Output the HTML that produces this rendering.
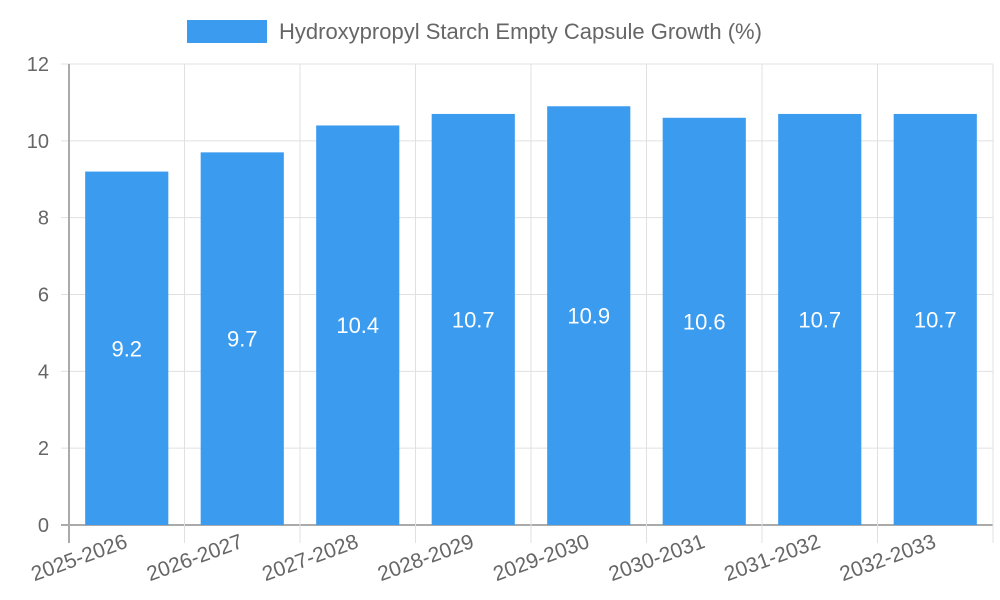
<!DOCTYPE html>
<html><head><meta charset="utf-8"><style>
body{margin:0;background:#fff;}
svg{display:block;font-family:"Liberation Sans",sans-serif;}
</style></head><body>
<svg id="chart" width="1000" height="600">
<g>
<rect x="187" y="20" width="80" height="23" fill="#3a9bef"></rect>
<text x="279" y="39" font-size="22" fill="#666">Hydroxypropyl Starch Empty Capsule Growth (%)</text>
</g>
<g id="grid"></g>
<g id="bars"></g>
<g id="axes"></g>
</svg>
<script>
const categories=["2025-2026","2026-2027","2027-2028","2028-2029","2029-2030","2030-2031","2031-2032","2032-2033"];
const values=[9.2,9.7,10.4,10.7,10.9,10.6,10.7,10.7];
const yTicks=[0,2,4,6,8,10,12];
const NS="http://www.w3.org/2000/svg";
const x0=69,x1=993,yTop=64,yBot=525,yMax=12;
const band=(x1-x0)/categories.length;
const y=v=>yBot-(v/yMax)*(yBot-yTop);
const xc=i=>x0+band*(i+0.5);
function mk(tag,attrs,parent){const e=document.createElementNS(NS,tag);for(const k in attrs)e.setAttribute(k,attrs[k]);parent.appendChild(e);return e;}
const grid=document.getElementById('grid'),bars=document.getElementById('bars'),axes=document.getElementById('axes');
yTicks.forEach(t=>{
  const l=mk('line',{x1:x0-8,x2:x1,y1:y(t),y2:y(t),stroke:t===0?'#aaa':'#e0e0e0','stroke-width':t===0?2:1},grid);
  
  
  const tx=mk('text',{x:x0-20,y:y(t)+7,'text-anchor':'end','font-size':20,fill:'#666'},axes);
  tx.textContent=t;
  
  
});
for(let i=0;i<=categories.length;i++){
  const gx=x0+band*i;
  const l=mk('line',{x1:gx,x2:gx,y1:yTop,y2:yBot+18,stroke:i===0?'#aaa':'#e0e0e0','stroke-width':i===0?2:1},grid);
  
  
}
const bw=band*0.72;
categories.forEach((c,i)=>{
  const r=mk('rect',{x:xc(i)-bw/2,y:y(values[i]),width:bw,height:yBot-y(values[i]),fill:'#3a9bef'},bars);
  
  
  const v=mk('text',{x:xc(i),y:(y(values[i])+yBot)/2+8,'text-anchor':'middle','font-size':22,fill:'#fff'},bars);
  v.textContent=values[i];
  
  
  const t=mk('text',{x:xc(i)+2,y:yBot+22,'text-anchor':'end','font-size':21,fill:'#666',transform:`rotate(-20 ${xc(i)+2} ${yBot+22})`},axes);
  t.textContent=c;
  
  
});
</script>
</body></html>
